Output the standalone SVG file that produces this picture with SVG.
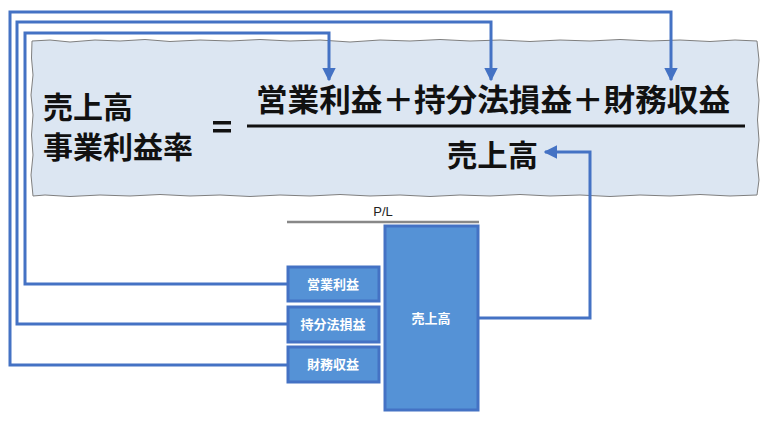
<svg xmlns="http://www.w3.org/2000/svg" width="768" height="432" viewBox="0 0 768 432">
<defs>
<style>
.big{font-family:"Noto Sans CJK JP","Noto Sans CJK SC",sans-serif;font-weight:bold;fill:#111;}
.box{fill:#5592d6;stroke:#4472c4;stroke-width:3;}
.lbl{font-family:"Noto Sans CJK JP","Noto Sans CJK SC",sans-serif;font-weight:bold;font-size:13px;fill:#fff;text-anchor:middle;}
.con{fill:none;stroke:#4472c4;stroke-width:3;}
</style>
<marker id="ah" viewBox="0 0 10 10" refX="9" refY="5" markerWidth="4.5" markerHeight="4.5" orient="auto" markerUnits="strokeWidth">
<path d="M0,0 L10,5 L0,10 z" fill="#4472c4"/>
</marker>
</defs>
<rect width="768" height="432" fill="#fff"/>
<g id="panel">
<path d="M32,41 L50,40 L70,42 L95,40 L120,41 L145,39.5 L170,41.5 L200,40 L230,41 L260,39.5 L290,41 L320,40 L350,42 L380,40 L410,41 L440,39.5 L470,41 L500,40 L530,41.5 L560,40 L590,41 L620,39.5 L650,41 L680,40 L710,41.5 L735,40 L757,41 L759,60 L757,80 L759,100 L757.5,120 L759,140 L757,160 L759,180 L757,195 L730,196 L700,194.5 L670,196 L640,195 L610,196.5 L580,195 L550,196 L520,194.5 L490,196 L460,195 L430,196.5 L400,195 L370,196 L340,194.5 L310,196 L280,195 L250,196.5 L220,195 L190,196 L160,194.5 L130,196 L100,195 L70,196.5 L45,195 L33,196 L31,175 L33,155 L31.5,135 L33,115 L31,95 L33,75 L31.5,58 Z" fill="#dce6f2" stroke="#7f7f7f" stroke-width="1"/>
</g>
<g id="formula">
<text class="big" x="43" y="118" font-size="30">売上高</text>
<text class="big" x="43" y="158" font-size="30">事業利益率</text>
<rect x="213" y="121" width="18" height="3.5" fill="#111"/>
<rect x="213" y="129" width="18" height="3.5" fill="#111"/>
<line x1="247" y1="126" x2="745" y2="126" stroke="#111" stroke-width="3"/>
<text class="big" x="256" y="111" font-size="31" textLength="474" lengthAdjust="spacingAndGlyphs">営業利益＋持分法損益＋財務収益</text>
<text class="big" x="447" y="166" font-size="30" textLength="91" lengthAdjust="spacingAndGlyphs">売上高</text>
</g>
<g id="pl-header">
<text x="383" y="216" font-family="Liberation Sans, sans-serif" font-size="13" text-anchor="middle" fill="#222">P/L</text>
<line x1="287" y1="222" x2="479" y2="222" stroke="#888" stroke-width="2.5"/>
</g>
<g id="connectors">
<path class="con" d="M288,284 H25 V33 H329 V80" marker-end="url(#ah)"/>
<path class="con" d="M288,324 H17 V22 H491 V80" marker-end="url(#ah)"/>
<path class="con" d="M288,365 H10 V12 H671 V80" marker-end="url(#ah)"/>
<path class="con" d="M479,318 H590 V152 H545" marker-end="url(#ah)"/>
</g>
<g id="node-eigyo">
<rect class="box" x="288" y="267" width="91" height="34"/>
<text class="lbl" x="333" y="289">営業利益</text>
</g>
<g id="node-mochibun">
<rect class="box" x="288" y="307" width="91" height="35"/>
<text class="lbl" x="333" y="329">持分法損益</text>
</g>
<g id="node-zaimu">
<rect class="box" x="288" y="347" width="91" height="35"/>
<text class="lbl" x="333" y="369">財務収益</text>
</g>
<g id="node-uriage">
<rect class="box" x="385" y="226" width="93" height="184"/>
<text class="lbl" x="431" y="323">売上高</text>
</g>
</svg>
